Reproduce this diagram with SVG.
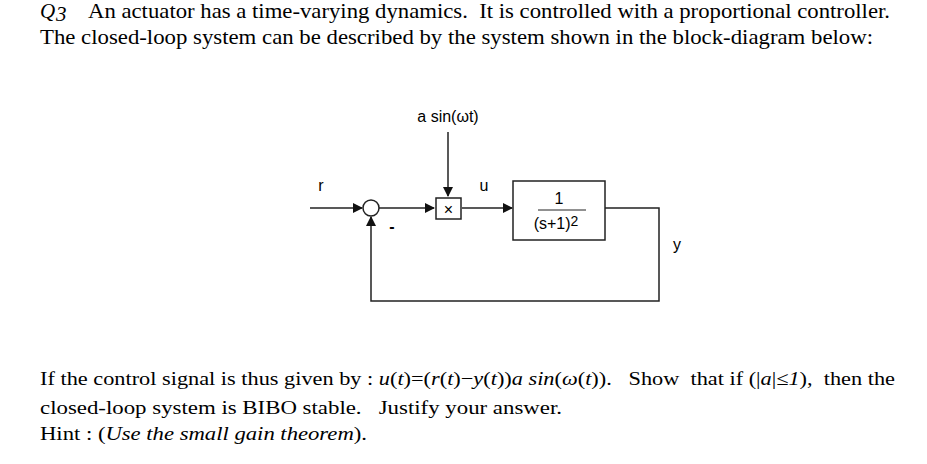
<svg xmlns="http://www.w3.org/2000/svg" width="927" height="464" viewBox="0 0 927 464">
<style>
.t{font-family:"Liberation Serif",serif;font-size:21px;fill:#000}
.b{font-family:"Liberation Serif",serif;font-size:19px;fill:#000}
.s{font-family:"Liberation Sans",sans-serif;font-size:16px;fill:#000}
.ln{fill:none;stroke:#222;stroke-width:1.5}
.bx{fill:#fff;stroke:#222;stroke-width:1.5}
</style>
<defs><marker id="a" markerWidth="10" markerHeight="10" refX="9" refY="5" orient="auto" markerUnits="userSpaceOnUse"><path d="M0,0L10,5L0,10z" fill="#111"/></marker></defs>
<rect width="927" height="464" fill="#fff"/>
<text class="t" x="40" y="18" font-style="italic">Q</text>
<text class="t" x="56" y="21" font-size="12" font-style="italic">3</text>
<text class="t" x="88" y="18" textLength="802" lengthAdjust="spacingAndGlyphs" xml:space="preserve">An actuator has a time-varying dynamics.  It is controlled with a proportional controller.</text>
<text class="t" x="40" y="44" textLength="833" lengthAdjust="spacingAndGlyphs">The closed-loop system can be described by the system shown in the block-diagram below:</text>
<g id="connectors">
<path class="ln" d="M310,208H362" marker-end="url(#a)"/>
<path class="ln" d="M379,208H434" marker-end="url(#a)"/>
<path class="ln" d="M448,132V196" marker-end="url(#a)"/>
<path class="ln" d="M462,208H512" marker-end="url(#a)"/>
<path class="ln" d="M605,208H659V301H371V217" marker-end="url(#a)"/>
</g>
<g id="sum"><circle class="bx" cx="371" cy="208" r="8"/></g>
<g id="mult"><rect class="bx" x="436" y="198" width="25" height="21"/><text class="s" x="448.5" y="215" text-anchor="middle" font-size="18">×</text></g>
<g id="plant"><rect class="bx" x="513" y="181" width="92" height="59"/>
<text class="s" x="559" y="204" text-anchor="middle" font-size="12">1</text>
<line x1="538" y1="210" x2="586" y2="210" stroke="#222"/>
<text class="s" x="556" y="229" text-anchor="middle" font-size="12">(s+1)<tspan font-size="14" dy="-3">2</tspan></text></g>
<g id="labels">
<text class="s" x="448" y="122" text-anchor="middle">a sin(ωt)</text>
<text class="s" x="321" y="191" text-anchor="middle">r</text>
<text class="s" x="484" y="191" text-anchor="middle">u</text>
<text class="s" x="392" y="232" text-anchor="middle" font-weight="bold">-</text>
<text class="s" x="677" y="250" text-anchor="middle">y</text>
</g>
<text class="b" x="40" y="385" textLength="855" lengthAdjust="spacingAndGlyphs" xml:space="preserve">If the control signal is thus given by : <tspan font-style="italic">u</tspan>(<tspan font-style="italic">t</tspan>)=(<tspan font-style="italic">r</tspan>(<tspan font-style="italic">t</tspan>)−<tspan font-style="italic">y</tspan>(<tspan font-style="italic">t</tspan>))<tspan font-style="italic">a sin</tspan>(<tspan font-style="italic">ω</tspan>(<tspan font-style="italic">t</tspan>)).   Show  that if (|<tspan font-style="italic">a</tspan>|≤<tspan font-style="italic">1</tspan>),  then the</text>
<text class="b" x="40" y="414" textLength="522" lengthAdjust="spacingAndGlyphs" xml:space="preserve">closed-loop system is BIBO stable.   Justify your answer.</text>
<text class="b" x="40" y="440" textLength="327" lengthAdjust="spacingAndGlyphs">Hint : (<tspan font-style="italic">Use the small gain theorem</tspan>).</text>
</svg>
